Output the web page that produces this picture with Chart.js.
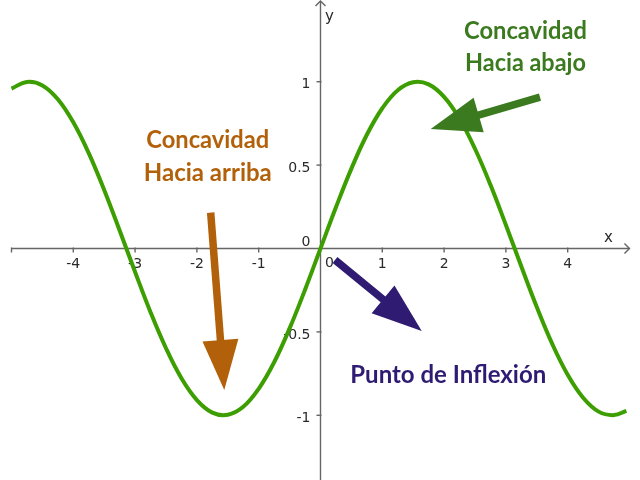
<!DOCTYPE html>
<html>
<head>
<meta charset="utf-8">
<script src="https://cdn.jsdelivr.net/npm/chart.js@4.4.1/dist/chart.umd.min.js"></script>
<style>
html,body{margin:0;padding:0;background:#fff;}
canvas{display:block;}
</style>
</head>
<body>
<canvas id="c" width="640" height="480"></canvas>
<script>
// Curve samples
const xValues = [-5.00,-4.75,-4.50,-4.25,-4.00,-3.75,-3.50,-3.25,-3.00,-2.75,-2.50,-2.25,-2.00,-1.75,-1.50,-1.25,-1.00,-0.75,-0.50,-0.25,0.00,0.25,0.50,0.75,1.00,1.25,1.50,1.75,2.00,2.25,2.50,2.75,3.00,3.25,3.50,3.75,4.00,4.25,4.50,4.75,4.95];
const yValues = [0.959,0.999,0.978,0.895,0.757,0.572,0.351,0.108,-0.141,-0.382,-0.598,-0.778,-0.909,-0.984,-0.997,-0.949,-0.841,-0.682,-0.479,-0.247,0.000,0.247,0.479,0.682,0.841,0.949,0.997,0.984,0.909,0.778,0.598,0.382,0.141,-0.108,-0.351,-0.572,-0.757,-0.895,-0.978,-0.999,-0.973];

// Axis tick labels
const xTickLabels = [-4,-3,-2,-1,1,2,3,4];
const xTickMarks = [-5,-4,-3,-2,-1,1,2,3,4];
const yTickLabels = [1,0.5,-0.5,-1];

// Annotations (text and arrows)
const noteTexts = [
  {lines:["Concavidad","Hacia abajo"], color:"#3b7a1f"},
  {lines:["Concavidad","Hacia arriba"], color:"#b2600a"},
  {lines:["Punto de Inflexión"], color:"#2f1b72"}
];
const noteAnchors = [
  {x:3.317, base:[1.256,1.064], width:[123,121]},
  {x:-1.824, base:[0.603,0.406], width:[123,128]},
  {x:2.068, base:[-0.806], width:[196]}
];
const arrowFrom = [[3.552,0.908],[-1.777,0.215],[0.235,-0.069]];
const arrowTo   = [[1.783,0.716],[-1.557,-0.848],[1.638,-0.495]];
const arrowColors = ["#3b7a1f","#b2600a","#2f1b72"];

const points = xValues.map((x,i)=>({x:x,y:yValues[i]}));

const axesPlugin = {
  id:'axes',
  beforeDatasetsDraw(chart){
    const ctx = chart.ctx, xs = chart.scales.x, ys = chart.scales.y;
    const ox = xs.getPixelForValue(0), oy = ys.getPixelForValue(0);
    ctx.save();
    ctx.strokeStyle = '#666';
    ctx.lineWidth = 1.4;
    const xl = xs.getPixelForValue(-5), xr = xs.getPixelForValue(5);
    ctx.beginPath(); ctx.moveTo(xl,oy); ctx.lineTo(xr,oy); ctx.stroke();
    ctx.beginPath(); ctx.moveTo(xr-5,oy-5); ctx.lineTo(xr,oy); ctx.lineTo(xr-5,oy+5); ctx.stroke();
    const yt = ys.getPixelForValue(1.484), yb = chart.height;
    ctx.beginPath(); ctx.moveTo(ox,yb); ctx.lineTo(ox,yt); ctx.stroke();
    ctx.beginPath(); ctx.moveTo(ox-5,yt+5); ctx.lineTo(ox,yt); ctx.lineTo(ox+5,yt+5); ctx.stroke();
    xTickMarks.forEach(v=>{const p=xs.getPixelForValue(v); ctx.beginPath(); ctx.moveTo(p,oy-1); ctx.lineTo(p,oy+4); ctx.stroke();});
    yTickLabels.forEach(v=>{const p=ys.getPixelForValue(v); ctx.beginPath(); ctx.moveTo(ox-4,p); ctx.lineTo(ox+1,p); ctx.stroke();});
    ctx.fillStyle = '#2a2a2a';
    ctx.font = '14px "DejaVu Sans"';
    ctx.textAlign = 'center'; ctx.textBaseline = 'middle';
    xTickLabels.forEach(v=>{ctx.fillText(String(v), xs.getPixelForValue(v), oy+16);});
    ctx.fillText('0', ox+9, oy+15);
    ctx.textAlign = 'right';
    yTickLabels.forEach(v=>{ctx.fillText(String(v), ox-10, ys.getPixelForValue(v)+3);});
    ctx.fillText('0', ox-10, oy-6);
    ctx.textAlign = 'center';
    ctx.font = '15px "DejaVu Sans"';
    ctx.fillText('x', xr-21, oy-10);
    ctx.fillText('y', ox+9, yt+16);
    ctx.restore();
  },
  afterDatasetsDraw(chart){
    const ctx = chart.ctx, xs = chart.scales.x, ys = chart.scales.y;
    ctx.save();
    arrowFrom.forEach((f,i)=>{
      const x0=xs.getPixelForValue(f[0]), y0=ys.getPixelForValue(f[1]);
      const x1=xs.getPixelForValue(arrowTo[i][0]), y1=ys.getPixelForValue(arrowTo[i][1]);
      const dx=x1-x0, dy=y1-y0, L=Math.hypot(dx,dy), ux=dx/L, uy=dy/L;
      const hl=50, hw=18;
      const bx=x1-ux*hl, by=y1-uy*hl;
      ctx.strokeStyle=arrowColors[i]; ctx.fillStyle=arrowColors[i];
      ctx.lineWidth=7.5; ctx.lineCap='butt';
      ctx.beginPath(); ctx.moveTo(x0,y0); ctx.lineTo(bx+ux*2,by+uy*2); ctx.stroke();
      ctx.beginPath();
      ctx.moveTo(x1,y1);
      ctx.lineTo(bx-uy*hw,by+ux*hw);
      ctx.lineTo(bx+uy*hw,by-ux*hw);
      ctx.closePath(); ctx.fill();
    });
    noteTexts.forEach((t,i)=>{
      const a=noteAnchors[i];
      ctx.fillStyle=t.color;
      ctx.font='bold 25px Lato';
      ctx.textAlign='center'; ctx.textBaseline='alphabetic';
      t.lines.forEach((ln,j)=>{
        const w=ctx.measureText(ln).width;
        const sx=a.width[j]/w;
        const cx=xs.getPixelForValue(a.x), by=ys.getPixelForValue(a.base[j]);
        ctx.save(); ctx.translate(cx,by); ctx.scale(sx,1); ctx.fillText(ln,0,0); ctx.restore();
      });
    });
    ctx.restore();
  }
};

new Chart(document.getElementById('c'),{
  type:'line',
  data:{datasets:[{data:points, borderColor:'#3c9e00', borderWidth:4, pointRadius:0, tension:0.4, fill:false}]},
  options:{
    responsive:false, animation:false,
    layout:{padding:0},
    plugins:{legend:{display:false}, tooltip:{enabled:false}},
    scales:{
      x:{type:'linear', display:false, min:-5.186, max:5.170},
      y:{type:'linear', display:false, min:-1.388, max:1.490}
    }
  },
  plugins:[axesPlugin]
});
</script>
</body>
</html>
